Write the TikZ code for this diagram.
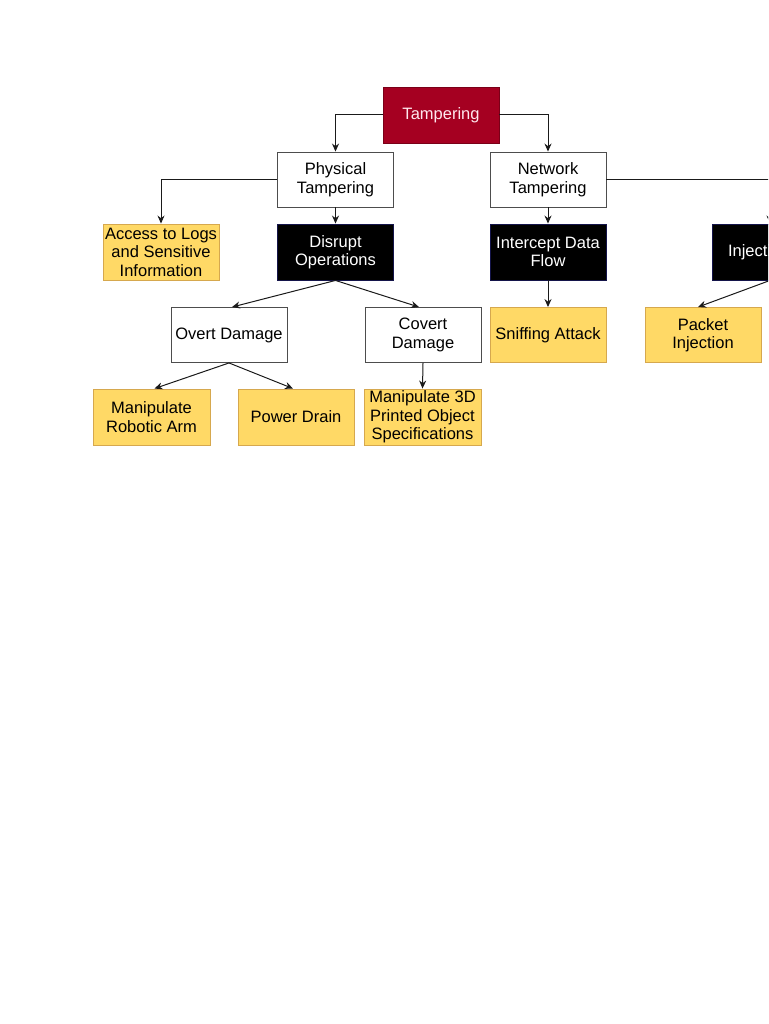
\documentclass[tikz,border=0pt]{standalone}
\usepackage{fontspec}
\setmainfont{Liberation Sans}
\usetikzlibrary{arrows.meta}

\definecolor{rootred}{HTML}{A50021}
\definecolor{rootedge}{HTML}{7A0018}
\definecolor{leafyellow}{HTML}{FFD966}
\definecolor{leafedge}{HTML}{D6A84E}
\definecolor{darkedge}{HTML}{14144A}
\definecolor{greyedge}{HTML}{4D4D4D}
\definecolor{linkgrey}{HTML}{1A1A1A}
\definecolor{roottext}{HTML}{FFE8EE}

\tikzset{
  box/.style={rectangle, align=center, inner sep=0pt, line width=0.9pt,
    font=\fontsize{16.5}{18.5}\selectfont},
  rootbox/.style={box, fill=rootred, draw=rootedge, text=roottext},
  whitebox/.style={box, fill=white, draw=greyedge, text=black},
  darkbox/.style={box, fill=black, draw=darkedge, text=white},
  leafbox/.style={box, fill=leafyellow, draw=leafedge, text=black},
  link/.style={draw=linkgrey, line width=1pt,
    -{Stealth[length=8pt,width=7pt]}}
}

\begin{document}
\begin{tikzpicture}[x=1pt,y=-1pt]
  \useasboundingbox (0,0) rectangle (768,1024);
  \fill[white] (0,0) rectangle (768,1024);
  \clip (0,0) rectangle (768,1024);

  % top level
  \node[rootbox, minimum width=116, minimum height=56] (tamp) at (441,115) {Tampering};

  % second level
  \node[whitebox, minimum width=116, minimum height=55] (phys) at (335.5,179.5) {Physical\\Tampering};
  \node[whitebox, minimum width=116, minimum height=55] (net) at (548,179.5) {Network\\Tampering};

  % third level
  \node[leafbox, minimum width=116, minimum height=56] (logs) at (161,252) {Access to Logs\\and Sensitive\\Information};
  \node[darkbox, minimum width=116, minimum height=56] (disrupt) at (335.5,252) {Disrupt\\Operations};
  \node[darkbox, minimum width=116, minimum height=56] (intercept) at (548,252) {Intercept Data\\Flow};
  \node[darkbox, minimum height=56, text width=84, inner xsep=16, align=left] (inject) at (770,252) {Injection};

  % fourth level
  \node[whitebox, minimum width=116, minimum height=55] (overt) at (229,335) {Overt Damage};
  \node[whitebox, minimum width=116, minimum height=55] (covert) at (423,335) {Covert\\Damage};
  \node[leafbox, minimum width=116, minimum height=55] (sniff) at (548,335) {Sniffing Attack};
  \node[leafbox, minimum width=116, minimum height=55] (packet) at (703,335) {Packet\\Injection};

  % fifth level
  \node[leafbox, minimum width=117, minimum height=56] (robot) at (151.5,417) {Manipulate\\Robotic Arm};
  \node[leafbox, minimum width=116, minimum height=56] (power) at (296,417) {Power Drain};
  \node[leafbox, minimum width=117, minimum height=56] (print) at (422.5,417) {Manipulate 3D\\Printed Object\\Specifications};

  % connectors
  \draw[link] (tamp.west) -| (phys.north);
  \draw[link] (tamp.east) -| (net.north);
  \draw[link] (phys.west) -| (logs.north);
  \draw[link] (phys.south) -- (disrupt.north);
  \draw[link] (net.south) -- (intercept.north);
  \draw[link] (net.east) -| (inject.north);
  \draw[link] (disrupt.south) -- ([xshift=3]overt.north);
  \draw[link] (disrupt.south) -- ([xshift=-4]covert.north);
  \draw[link] (intercept.south) -- (sniff.north);
  \draw[link] (inject.south) -- ([xshift=-5]packet.north);
  \draw[link] (overt.south) -- ([xshift=3]robot.north);
  \draw[link] (overt.south) -- ([xshift=-3]power.north);
  \draw[link] (covert.south) -- (print.north);
\end{tikzpicture}
\end{document}
